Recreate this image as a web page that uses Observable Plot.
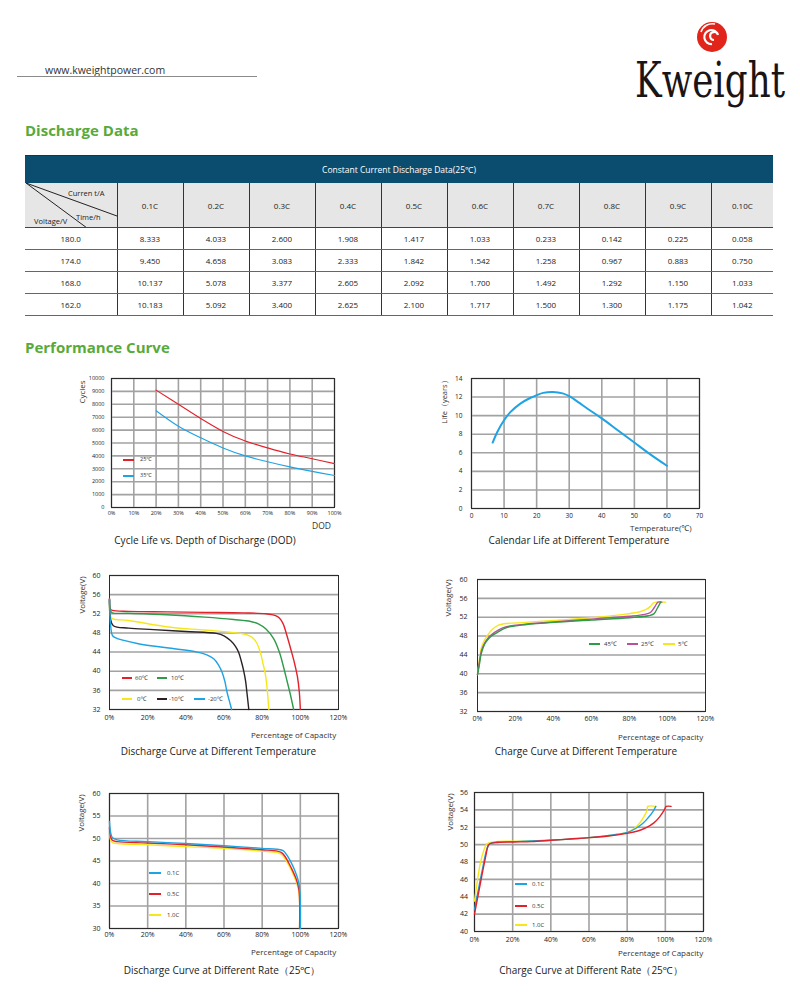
<!DOCTYPE html>
<html><head><meta charset="utf-8">
<script src="https://cdn.jsdelivr.net/npm/d3@7"></script>
<script src="https://cdn.jsdelivr.net/npm/@observablehq/plot@0.6"></script>
<style>
body{margin:0;background:#fff;}
#page{position:relative;width:800px;height:1000px;overflow:hidden;font-family:"Open Sans","Noto Sans",sans-serif;color:#222;}
.abs{position:absolute;white-space:nowrap;line-height:1;}
table.dd{position:absolute;left:25px;top:155px;border-collapse:collapse;table-layout:fixed;width:748px;font-size:8px;color:#222;}
table.dd td{padding:0;text-align:center;vertical-align:middle;}
table.dd tr.hd td{background:#0b4d6e;color:#fff;height:27px;font-size:8.5px;border-top:1px solid #233;}
table.dd tr.sub td{background:#e6e6e7;height:44px;border-bottom:1.5px solid #444;}
table.dd tr.row td{height:21px;border-bottom:1.5px solid #666;}
table.dd tr.sub td+td, table.dd tr.row td+td{border-left:1px solid #333;}
</style></head>
<body><div id="page"></div>
<script>
// ---------- DATA ----------
const siteUrl = "www.kweightpower.com";
const brandName = "Kweight";
const tableTitle = "Constant Current Discharge Data(25℃)";
const rateLabels = ["0.1C","0.2C","0.3C","0.4C","0.5C","0.6C","0.7C","0.8C","0.9C","0.10C"];
const voltageLabels = ["180.0","174.0","168.0","162.0"];
const time180 = ["8.333","4.033","2.600","1.908","1.417","1.033","0.233","0.142","0.225","0.058"];
const time174 = ["9.450","4.658","3.083","2.333","1.842","1.542","1.258","0.967","0.883","0.750"];
const time168 = ["10.137","5.078","3.377","2.605","2.092","1.700","1.492","1.292","1.150","1.033"];
const time162 = ["10.183","5.092","3.400","2.625","2.100","1.717","1.500","1.300","1.175","1.042"];

// Cycle life vs DOD
const dodPct = [20,30,40,50,60,70,80,90,100];
const cycles25 = [9100,8000,6900,5900,5150,4620,4150,3780,3400];
const cycles35 = [7500,6300,5400,4620,4000,3550,3150,2800,2480];

// Calendar life
const calTemp = [6.5,8,10,12,15,18,20,22,25,28,30,33,35,40,45,50,55,60];
const calLife = [7.1,8.3,9.5,10.4,11.3,11.9,12.2,12.45,12.55,12.4,12.1,11.4,10.9,9.7,8.4,7.1,5.8,4.6];

// Discharge at different temperature (capacity %, voltage)
const dt60X = [0,0.5,1.5,10,30,50,70,82,87,89,91,93,95,97,98.5,99.5,100];
const dt60V = [55.2,53.0,52.7,52.5,52.4,52.3,52.2,52.0,51.6,51.1,49.9,47.4,44.6,41.6,38.8,35.5,32];
const dt10X = [0,0.5,1.5,10,30,50,65,74,78,82,86,89,91,93,94.5,96.5];
const dt10V = [55,52.6,52.2,52.1,51.8,51.3,50.8,50.4,49.9,48.8,46.8,44,41.2,38,35.6,32];
const dt0X = [0,0.5,1.5,10,32,50,68.6,72,74.7,77,79,80.5,81.8,82.8,83.5];
const dt0V = [54,51.6,51.0,50.6,49.2,48.6,47.9,47.6,47.1,46,44,41.5,39.1,35.5,32];
const dtm10X = [0,0.5,2,10,23,40,56,60,63.4,66,67.6,69,70.2,71.3,72,73];
const dtm10V = [55,51,49.5,49,48.7,48.3,47.9,47.4,46.4,45.2,44,42.2,40.3,38,35.6,32];
const dtm20X = [0,0.5,1.5,3,14.5,30,46,51,54.6,57,59,60.5,61.6,63,64];
const dtm20V = [55,50,47.5,47,45.8,44.9,44,43.4,42.6,41.4,39.8,37.8,35.6,33.5,32];

// Charge at different temperature
const ct45X = [0,1,1.75,3,4.4,7,10.5,14,17.5,25,40,60,80,90,92.8,94.5,96.4];
const ct45V = [39.8,42,43.9,45.6,46.7,47.9,48.8,49.6,50.0,50.4,50.9,51.4,51.9,52.3,52.7,53.8,55.2];
const ct25X = [0,1,2,3.5,6,9,13,18,25,40,60,80,88,91,93,95,97];
const ct25V = [39.8,42.5,44.8,46.3,47.8,48.8,49.7,50.2,50.5,51.0,51.6,52.2,52.6,53.0,54.0,55.2,55.2];
const ct5X = [0,1,2,3.5,5.5,8,11,14,25,40,60,75,85,89,91,92.5,94,99];
const ct5V = [40,43,45.5,47,48.3,49.5,50.3,50.6,50.9,51.3,51.9,52.5,53.1,53.7,54.3,55.0,55.2,55.2];

// Discharge at different rate
const dr01X = [0,0.5,1.5,4,20,40,60,80,88,91,93,95,97,99,99.8,100];
const dr01V = [53.8,51.5,50.2,49.7,49.3,48.9,48.4,47.8,47.6,47.3,46.3,44.8,43,40.5,38,30];
const dr05X = [0,0.5,1.5,4,20,40,60,80,88,90,92,94,96,98,99.3,99.6];
const dr05V = [52.5,50.5,49.6,49.3,49.0,48.6,48.1,47.5,47.2,46.9,46.0,44.5,42.8,40.8,38.5,30];
const dr10X = [0,0.5,1.5,4,20,40,60,80,88,90,92,94,96,98,99.3,99.6];
const dr10V = [51.5,49.8,49.1,48.9,48.6,48.2,47.8,47.2,46.9,46.5,45.5,44,42.3,40.2,38,30];

// Charge at different rate
const cr01X = [0,2,4,6.5,8,12,20,40,60,75,80,84,88,91,93.5,95];
const cr01V = [42.5,44.8,47,49.5,50.1,50.3,50.35,50.5,50.8,51.2,51.4,51.8,52.4,53.1,53.8,54.4];
const cr05X = [0,2,4,6,7,8,12,20,30,40,50,60,70,80,86,90,94,97,99.5,100.5,103];
const cr05V = [42,44.3,46.6,48.8,49.8,50.1,50.25,50.3,50.35,50.5,50.65,50.8,51.0,51.3,51.6,51.95,52.5,53.2,54.0,54.4,54.4];
const cr10X = [0,1.5,3,5,6.5,10,20,40,60,80,84,87,89,90.5,90.8,95];
const cr10V = [43.5,45.8,47.8,49.4,50.1,50.3,50.4,50.5,50.8,51.4,51.9,52.6,53.3,54.0,54.4,54.4];

// Colors
const RED="#e3212b", BLUE="#1ea3e4", GREEN="#2f9a49", YELLOW="#f6e71d", BLACK="#2a2222", MAGENTA="#b9509a", GRID="#a2a2a2";

// ---------- LAYOUT HELPERS ----------
const page = document.getElementById("page");
function txt(s, x, y, o={}) {
  const d = document.createElement("div");
  d.className = "abs"; d.textContent = s;
  d.style.left = x + "px"; d.style.top = y + "px";
  d.style.fontSize = (o.size || 10) + "px";
  let tf = "translateY(-50%)";
  if (o.anchor === "middle") tf = "translate(-50%,-50%)";
  if (o.anchor === "end") tf = "translate(-100%,-50%)";
  if (o.rotate) tf = "translate(-50%,-50%) rotate(-90deg)";
  d.style.transform = tf;
  if (o.color) d.style.color = o.color;
  if (o.weight) d.style.fontWeight = o.weight;
  if (o.family) d.style.fontFamily = o.family;
  page.appendChild(d); return d;
}
function legend(x1, x2, y, color, label, lx, size) {
  const l = document.createElement("div"); l.className = "abs";
  l.style.left = x1 + "px"; l.style.top = (y - 1) + "px";
  l.style.width = (x2 - x1) + "px"; l.style.height = "2px"; l.style.background = color;
  page.appendChild(l);
  txt(label, lx, y, {size: size || 6.5, color: "#333"});
}
function chart(c) {
  const mL = 50, mR = 12, mT = 8, mB = 24;
  const w = c.fx1 - c.fx0 + mL + mR, h = c.fy1 - c.fy0 + mT + mB;
  const marks = [];
  if (c.gridX) marks.push(Plot.gridX(c.xTicks, {stroke: GRID, strokeOpacity: 1, strokeWidth: 1.6}));
  if (c.gridY) marks.push(Plot.gridY(c.yTicks, {stroke: GRID, strokeOpacity: 1, strokeWidth: 1.6}));
  marks.push(Plot.frame({stroke: "#2b2b2b", strokeWidth: 1}));
  for (const s of c.series) {
    marks.push(Plot.line(d3.range(s.x.length), {x: i => s.x[i], y: i => s.y[i], stroke: s.color,
      strokeWidth: s.width || 1.4, curve: "catmull-rom"}));
  }
  marks.push(Plot.axisX(c.xTicks, {tickSize: 0, tickPadding: c.xPad, tickFormat: c.xFmt || (d => String(d)), fontSize: c.fs, label: null}));
  marks.push(Plot.axisY(c.yTicks, {tickSize: 0, tickPadding: c.yPad, tickFormat: c.yFmt || (d => String(d)), fontSize: c.fs, label: null}));
  const svg = Plot.plot({
    width: w, height: h, marginLeft: mL, marginRight: mR, marginTop: mT, marginBottom: mB,
    x: {domain: c.xDomain}, y: {domain: c.yDomain},
    style: {fontFamily: "'Open Sans','Noto Sans',sans-serif", color: "#222", background: "transparent", overflow: "visible"},
    marks
  });
  svg.style.position = "absolute";
  svg.style.left = (c.fx0 - mL) + "px";
  svg.style.top = (c.fy0 - mT) + "px";
  page.appendChild(svg);
}
const pct = d => d + "%";

// ---------- HEADER ----------
txt(siteUrl, 45, 70, {size: 10.5, color: "#333"});
{
  const l = document.createElement("div"); l.className = "abs";
  l.style.cssText += "left:17px;top:76px;width:240px;height:1px;background:#8a8a8a;";
  page.appendChild(l);
}
{
  const ns = "http://www.w3.org/2000/svg";
  const svg = document.createElementNS(ns, "svg");
  svg.setAttribute("width", 168); svg.setAttribute("height", 100);
  svg.style.cssText = "position:absolute;left:625px;top:10px;";
  svg.innerHTML = `
    <circle cx="87" cy="27" r="15" fill="#e1251b"/>
    <path d="M87 34 a7 7 0 1 1 6 -9 a4 4 0 1 0 -4 5" fill="none" stroke="#fff" stroke-width="2.2"/>
    <path d="M76 22 a12 12 0 0 1 14 -8" fill="none" stroke="#fff" stroke-width="1.6"/>
    <g transform="scale(1,1.4)"><text x="10" y="62" font-family="DejaVu Serif" font-size="34" fill="#1a1414" textLength="150" lengthAdjust="spacingAndGlyphs"></text></g>`;
  svg.querySelector("text").textContent = brandName;
  page.appendChild(svg);
}

// ---------- DISCHARGE DATA TABLE ----------
txt("Discharge Data", 25, 130, {size: 15, weight: 700, color: "#58aa3a"});
{
  const tbl = document.createElement("table"); tbl.className = "dd";
  const cg = document.createElement("colgroup");
  [92,66,66,66,66,66,66,66,66,66,62].forEach(w => { const c = document.createElement("col"); c.style.width = w + "px"; cg.appendChild(c); });
  tbl.appendChild(cg);
  const hr = tbl.insertRow(); hr.className = "hd";
  const hc = hr.insertCell(); hc.colSpan = 11; hc.textContent = tableTitle;
  const sr = tbl.insertRow(); sr.className = "sub";
  const corner = sr.insertCell(); corner.style.position = "relative";
  corner.innerHTML = `<svg width="92" height="44" style="position:absolute;left:0;top:0">
    <line x1="1" y1="0" x2="92" y2="33" stroke="#222" stroke-width="1"/>
    <line x1="1" y1="0" x2="62" y2="45" stroke="#222" stroke-width="1"/></svg>
    <span style="position:absolute;left:43px;top:5px;font-size:7.5px">Curren t/A</span>
    <span style="position:absolute;left:51px;top:29px;font-size:7.5px">Time/h</span>
    <span style="position:absolute;left:9px;top:33px;font-size:7.5px">Voltage/V</span>`;
  rateLabels.forEach(r => { sr.insertCell().textContent = r; });
  const rows = [time180, time174, time168, time162];
  rows.forEach((vals, i) => {
    const tr = tbl.insertRow(); tr.className = "row";
    tr.insertCell().textContent = voltageLabels[i];
    vals.forEach(v => { tr.insertCell().textContent = v; });
  });
  page.appendChild(tbl);
}

// ---------- PERFORMANCE CURVES ----------
txt("Performance Curve", 25, 347, {size: 15, weight: 700, color: "#58aa3a"});

// Chart 1: Cycle life vs DOD
chart({fx0: 111, fx1: 334, fy0: 378, fy1: 507, xDomain: [0,100], yDomain: [0,10000],
  xTicks: d3.range(0,101,10), yTicks: d3.range(0,10001,1000), xFmt: pct, gridX: true, gridY: true,
  fs: 5.5, xPad: 4, yPad: 7,
  series: [{x: dodPct, y: cycles25, color: RED, width: 1.1}, {x: dodPct, y: cycles35, color: BLUE, width: 1.1}]});
txt("Cycles", 81.5, 392, {size: 8, rotate: true, color: "#333"});
txt("DOD", 312, 526, {size: 8.5, color: "#333"});
legend(123, 134, 459.5, RED, "25℃", 140, 5.5);
legend(123, 134, 475.5, BLUE, "35℃", 140, 5.5);
txt("Cycle Life vs. Depth of Discharge (DOD)", 205, 540, {size: 10, anchor: "middle"});

// Chart 2: Calendar life
chart({fx0: 471, fx1: 699, fy0: 378, fy1: 508, xDomain: [0,70], yDomain: [0,14],
  xTicks: d3.range(0,71,10), yTicks: d3.range(0,15,2), gridX: true, gridY: true,
  fs: 6.5, xPad: 5, yPad: 9,
  series: [{x: calTemp, y: calLife, color: BLUE, width: 2}]});
txt("Life（years）", 445, 400, {size: 7.5, rotate: true, color: "#333"});
txt("Temperature(℃)", 630, 528, {size: 8, color: "#333"});
txt("Calendar Life at Different Temperature", 579, 540, {size: 10, anchor: "middle"});

// Chart 3: Discharge at different temperature
chart({fx0: 109, fx1: 338, fy0: 575, fy1: 709, xDomain: [0,120], yDomain: [32,60],
  xTicks: d3.range(0,121,20), yTicks: d3.range(32,61,4), xFmt: pct, gridX: false, gridY: true,
  fs: 7, xPad: 6, yPad: 9,
  series: [{x: dt60X, y: dt60V, color: RED}, {x: dt10X, y: dt10V, color: GREEN}, {x: dt0X, y: dt0V, color: YELLOW},
           {x: dtm10X, y: dtm10V, color: BLACK}, {x: dtm20X, y: dtm20V, color: BLUE}]});
txt("Voltage(V)", 82, 595, {size: 8, rotate: true, color: "#333"});
txt("Percentage of Capacity", 251, 735, {size: 8, color: "#333"});
legend(122, 132, 677.5, RED, "60℃", 135, 6);
legend(157, 167, 677.5, GREEN, "10℃", 171, 6);
legend(122, 132, 698.5, YELLOW, "0℃", 137, 6);
legend(157, 167, 698.5, BLACK, "-10℃", 169, 6);
legend(194, 205, 698.5, BLUE, "-20℃", 208, 6);
txt("Discharge Curve at Different Temperature", 218.5, 751, {size: 10, anchor: "middle"});

// Chart 4: Charge at different temperature
chart({fx0: 477, fx1: 705, fy0: 579, fy1: 711, xDomain: [0,120], yDomain: [32,60],
  xTicks: d3.range(0,121,20), yTicks: d3.range(32,61,4), xFmt: pct, gridX: false, gridY: true,
  fs: 7, xPad: 5, yPad: 10,
  series: [{x: ct5X, y: ct5V, color: YELLOW}, {x: ct25X, y: ct25V, color: MAGENTA}, {x: ct45X, y: ct45V, color: GREEN}]});
txt("Voltage(V)", 448, 598, {size: 8, rotate: true, color: "#333"});
txt("Percentage of Capacity", 618, 737, {size: 8, color: "#333"});
legend(589, 600, 644, GREEN, "45℃", 604, 6);
legend(627, 638, 644, MAGENTA, "25℃", 641, 6);
legend(663, 675, 644, YELLOW, "5℃", 678, 6);
txt("Charge Curve at Different Temperature", 586, 751, {size: 10, anchor: "middle"});

// Chart 5: Discharge at different rate
chart({fx0: 109, fx1: 338, fy0: 793, fy1: 928, xDomain: [0,120], yDomain: [30,60],
  xTicks: d3.range(0,121,20), yTicks: d3.range(30,61,5), xFmt: pct, gridX: true, gridY: true,
  fs: 7, xPad: 4, yPad: 9,
  series: [{x: dr10X, y: dr10V, color: YELLOW}, {x: dr05X, y: dr05V, color: RED}, {x: dr01X, y: dr01V, color: BLUE}]});
txt("Voltage(V)", 81, 813, {size: 8, rotate: true, color: "#333"});
txt("Percentage of Capacity", 251, 952, {size: 8, color: "#333"});
legend(149, 161, 873, BLUE, "0.1C", 167, 6);
legend(149, 161, 894, RED, "0.5C", 167, 6);
legend(149, 161, 915, YELLOW, "1.0C", 167, 6);
txt("Discharge Curve at Different Rate（25℃）", 222, 970, {size: 10, anchor: "middle"});

// Chart 6: Charge at different rate
chart({fx0: 474, fx1: 703, fy0: 792, fy1: 931, xDomain: [0,120], yDomain: [40,56],
  xTicks: d3.range(0,121,20), yTicks: d3.range(40,57,2), xFmt: pct, gridX: true, gridY: true,
  fs: 7, xPad: 6, yPad: 6.5,
  series: [{x: cr10X, y: cr10V, color: YELLOW}, {x: cr01X, y: cr01V, color: BLUE}, {x: cr05X, y: cr05V, color: RED}]});
txt("Voltage(V)", 450, 812, {size: 8, rotate: true, color: "#333"});
txt("Percentage of Capacity", 618, 953, {size: 8, color: "#333"});
legend(515, 527, 884, BLUE, "0.1C", 532, 6);
legend(515, 527, 906, RED, "0.5C", 532, 6);
legend(515, 527, 925, YELLOW, "1.0C", 532, 6);
txt("Charge Curve at Different Rate（25℃）", 591, 970, {size: 10, anchor: "middle"});
</script>
</body></html>
